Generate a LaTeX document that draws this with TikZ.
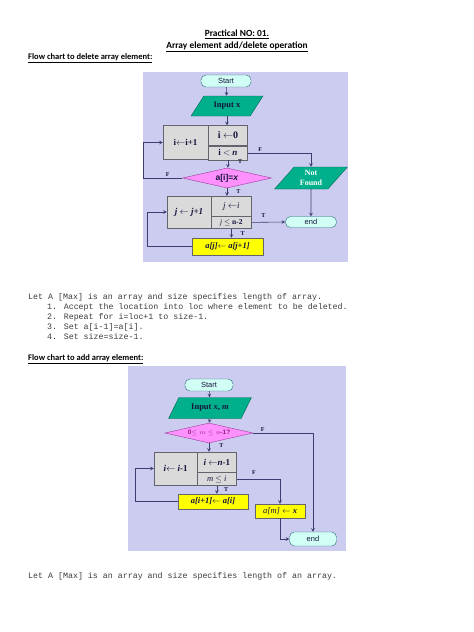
\documentclass[tikz,border=0pt]{standalone}
\usepackage{fontspec}
\setmainfont{Liberation Serif}
\setsansfont{Liberation Sans}
\newfontfamily\headfont{Carlito}
\newfontfamily\codefont{Liberation Mono}
\usetikzlibrary{shapes,arrows,positioning}

\definecolor{chartbg}{RGB}{204,204,240}
\definecolor{termfill}{RGB}{210,255,245}
\definecolor{termline}{RGB}{40,110,120}
\definecolor{iofill}{RGB}{0,176,140}
\definecolor{ioline}{RGB}{0,100,80}
\definecolor{decfill}{RGB}{255,145,255}
\definecolor{decline}{RGB}{150,60,150}
\definecolor{dectext}{RGB}{150,30,130}
\definecolor{cellfill}{RGB}{218,218,218}
\definecolor{cellline}{RGB}{100,100,110}
\definecolor{procfill}{RGB}{255,255,0}
\definecolor{flowline}{RGB}{60,60,110}
\definecolor{inkblue}{RGB}{20,20,60}
\definecolor{codegray}{RGB}{60,60,60}

\tikzset{
  term/.style={draw=termline,fill=termfill,rounded corners=5pt,inner sep=0pt,
    font=\sffamily\fontsize{7.5}{8}\selectfont,text=inkblue},
  io/.style={trapezium,trapezium left angle=#1,trapezium right angle=180-#1,
    trapezium stretches=true,draw=ioline,fill=iofill,inner sep=0pt,
    font=\bfseries\fontsize{8.5}{9}\selectfont,text=inkblue},
  dec/.style={diamond,aspect=4.4,draw=decline,fill=decfill,inner sep=0pt,
    font=\sffamily\bfseries\fontsize{8.5}{9}\selectfont,text=inkblue},
  cell/.style={draw=cellline,fill=cellfill,inner sep=0pt,
    font=\bfseries\fontsize{9}{10}\selectfont,text=inkblue},
  proc/.style={draw=cellline,fill=procfill,inner sep=0pt,
    font=\bfseries\itshape\fontsize{8.5}{9}\selectfont,text=inkblue},
  flow/.style={draw=flowline,->,>=stealth,line width=0.6pt},
  lab/.style={font=\bfseries\fontsize{6}{6}\selectfont,text=inkblue,inner sep=1pt},
  head/.style={font=\headfont\bfseries\fontsize{8.5}{12}\selectfont,inner sep=0pt},
  code/.style={font=\codefont\fontsize{8.3}{10}\selectfont,text=codegray,anchor=west,inner sep=0pt},
}

\begin{document}
\begin{tikzpicture}[x=1pt,y=-1pt]
    \useasboundingbox[fill=white] (0,0) rectangle (474,632);

    % page text
    \node[head,align=center,font=\headfont\bfseries\fontsize{9.4}{12}\selectfont] (title) at (237,41)
        {\underline{Practical NO: 01.}\\\underline{Array element add/delete operation}};
    \node[head,anchor=west] (sub1) at (28,58) {\underline{Flow chart to delete array element:}};

    % --- delete chart ---
    \fill[chartbg] (143,72) rectangle (348,262);
    \node[term,minimum width=50pt,minimum height=12pt] (start1) at (226,81) {Start};
    \node[io=45,minimum width=72pt,minimum height=20pt] (in1) at (227,106) {Input x};
    \node[cell,minimum width=45pt,minimum height=34pt] (inc1) at (185.5,142.5) {i$\leftarrow$i+1};
    \node[cell,anchor=north west,minimum width=39pt,minimum height=20pt,font=\bfseries\fontsize{10}{10}\selectfont]
        (init1) at (inc1.north east) {i $\leftarrow$0};
    \node[cell,below=0pt of init1,minimum width=39pt,minimum height=14pt] (cond1) {i $<$ \textit{n}};
    \node[dec,minimum width=89pt,minimum height=20pt] (dia1) at (227,178) {a[i]=\textit{x}};
    \node[io=50,minimum width=73pt,minimum height=22pt,align=center,text=white,
        font=\bfseries\fontsize{8}{10}\selectfont] (nf) at (311,178) {Not\\Found};
    \node[cell,font=\bfseries\itshape\fontsize{9}{10}\selectfont,minimum width=44pt,minimum height=32pt]
        (inc2) at (189,212) {j $\leftarrow$ j+1};
    \node[cell,anchor=north west,font=\itshape\fontsize{9}{10}\selectfont,minimum width=40pt,minimum height=20pt]
        (jinit) at (inc2.north east) {j $\leftarrow$i};
    \node[cell,below=0pt of jinit,font=\fontsize{7.5}{8}\selectfont,minimum width=40pt,minimum height=12pt]
        (jcond) {\textit{j} $\le$ \textbf{n-2}};
    \node[term,minimum width=51pt,minimum height=11pt] (end1) at (311,222) {end};
    \node[proc,minimum width=71pt,minimum height=17pt] (ybox1) at (227.5,246.5) {a[j]$\leftarrow$ a[j+1]};
    \coordinate (back1) at (143,178);
    \coordinate (back2) at (147,246.5);

    \draw[flow] (start1) -- (in1);
    \draw[flow] (in1.south) -- (in1.south |- init1.north);
    \draw[flow] (cond1.south) -- node[lab,right,xshift=9pt,yshift=2pt] {T} (cond1.south |- dia1.north);
    \draw[flow] (cond1.east) -| node[lab,above,pos=0.1] {F} (nf.north);
    \draw[flow] (dia1.west) -- node[lab,above,pos=0.37] {F} (back1) |- (inc1.west);
    \draw[flow] (dia1.south) -- node[lab,right,xshift=8pt] {T} (dia1.south |- jinit.north);
    \draw[flow] (nf.south) -- (end1.north);
    \draw[flow] (jcond.east) -- node[lab,above,pos=0.35,yshift=3pt] {T} (end1.west);
    \draw[flow] (jcond.south) -- node[lab,right,xshift=8pt] {T} (jcond.south |- ybox1.north);
    \draw[flow] (ybox1.west) -- (back2) |- (inc2.west);

    % steps
    \node[code] (let1) at (28,297) {Let A [Max] is an array and size specifies length of array.};
    \node[code] (step1) at (47,307) {1. Accept the location into loc where element to be deleted.};
    \node[code] (step2) at (47,317) {2. Repeat for i=loc+1 to size-1.};
    \node[code] (step3) at (47,327) {3. Set a[i-1]=a[i].};
    \node[code] (step4) at (47,337) {4. Set size=size-1.};

    \node[head,anchor=west] (sub2) at (28,359) {\underline{Flow chart to add array element:}};

    % --- add chart ---
    \fill[chartbg] (128,366) rectangle (346,551);
    \node[term,minimum width=48pt,minimum height=12pt] (start2) at (209,385) {Start};
    \node[io=50,minimum width=83pt,minimum height=21pt] (in2) at (210,408) {Input \textit{x}, \textit{m}};
    \node[dec,minimum width=88pt,minimum height=20pt,text=dectext,
        font=\sffamily\bfseries\fontsize{6.5}{7}\selectfont] (dia2) at (209,433) {0$\le m \le n$-1?};
    \node[cell,font=\bfseries\fontsize{9}{10}\selectfont,minimum width=43pt,minimum height=33pt]
        (dec2) at (175.5,468.5) {\textit{i}$\leftarrow$ \textit{i}-1};
    \node[cell,anchor=north west,minimum width=39pt,minimum height=20pt] (init2) at (dec2.north east)
        {\textit{i} $\leftarrow$\textit{n}-1};
    \node[cell,below=0pt of init2,font=\itshape\fontsize{8.5}{9}\selectfont,minimum width=39pt,minimum height=13pt]
        (cond2) {m $\le$ i};
    \node[proc,minimum width=70pt,minimum height=15pt] (ybox2) at (213,501.5) {a[i+1]$\leftarrow$ a[i]};
    \node[proc,font=\itshape\fontsize{8.5}{9}\selectfont,minimum width=50pt,minimum height=14pt]
        (ybox3) at (280,511) {a[m] $\leftarrow$ \textbf{x}};
    \node[term,minimum width=47pt,minimum height=14pt] (end2) at (313,539) {end};
    \coordinate (back3) at (135,501.5);

    \draw[flow] (start2) -- (in2);
    \draw[flow] (in2.south) -- (dia2.north);
    \draw[flow] (dia2.east) -| node[lab,above,pos=0.08] {F} (end2.north);
    \draw[flow] (dia2.south) -- node[lab,right,xshift=9pt,yshift=2pt] {T} (dia2.south |- init2.north);
    \draw[flow] (cond2.east) -| node[lab,above,pos=0.2,yshift=3pt] {F} (ybox3.north);
    \draw[flow] (cond2.south) -- node[lab,right,xshift=6pt] {T} (cond2.south |- ybox2.north);
    \draw[flow] (ybox3.south) |- (end2.west);
    \draw[flow] (ybox2.west) -- (back3) |- (dec2.west);

    \node[code] (let2) at (28,576) {Let A [Max] is an array and size specifies length of an array.};
\end{tikzpicture}
\end{document}
